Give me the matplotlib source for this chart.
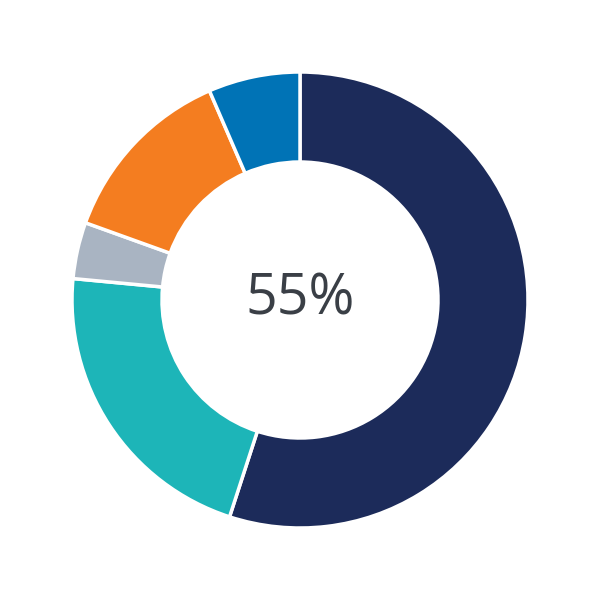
import matplotlib.pyplot as plt

# donut segments, clockwise from the top
labels = ["Navy", "Teal", "Gray", "Orange", "Blue"]
values = [55, 21.5, 4, 13, 6.5]
colors = ["#1c2b5a", "#1db5b8", "#a9b4c2", "#f47d20", "#0073b6"]
center_text = "55%"

fig = plt.figure(figsize=(6, 6), dpi=100)
ax = fig.add_axes([0, 0, 1, 1])

ax.pie(values, colors=colors, startangle=90, counterclock=False,
       radius=0.76,
       wedgeprops=dict(width=0.30, edgecolor="white", linewidth=2.5))

ax.text(0, 0, center_text, ha="center", va="center",
        fontsize=40, color="#3a3f46", family="Open Sans")

ax.set_xlim(-1, 1)
ax.set_ylim(-1, 1)
ax.set_aspect("equal")
ax.axis("off")

fig.savefig("out.png", dpi=100, facecolor="white")
